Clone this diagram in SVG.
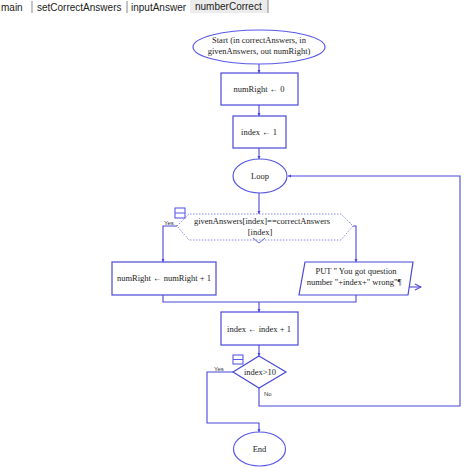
<svg xmlns="http://www.w3.org/2000/svg" width="474" height="468" viewBox="0 0 474 468">
<style>
.tab{font-family:"Liberation Sans",Arial,sans-serif;font-size:10px;fill:#222}
.sep{stroke:#888;stroke-width:1}
.shape{fill:#fff;stroke:#4848d8;stroke-width:1.2}
.ell{fill:#fff;stroke:#5a5ae6;stroke-width:1.2}
.t{font-family:"Liberation Serif","Times New Roman",serif;font-size:8.5px;fill:#222;text-anchor:middle}
.lbl{font-family:"Liberation Sans",Arial,sans-serif;font-size:6px;fill:#333}
.c{fill:none;stroke:#4848d8;stroke-width:1.1}
.icon{fill:#fff;stroke:#5a5ae6;stroke-width:1.1}
</style>
<defs>
<marker id="dot" markerWidth="4" markerHeight="4" refX="3" refY="2" orient="auto" markerUnits="userSpaceOnUse">
<path d="M0,0.5 L3,2 L0,3.5 Z" fill="#4848d8"/>
</marker>
<marker id="open" markerWidth="8" markerHeight="8" refX="7" refY="4" orient="auto" markerUnits="userSpaceOnUse">
<path d="M1,1 L7,4 L1,7" fill="none" stroke="#4848d8" stroke-width="1.1"/>
</marker>
</defs>
<rect width="474" height="468" fill="#fff"/>
<g id="tabs">
<rect x="190" y="0" width="78" height="13" fill="#ececec"/>
<text class="tab" x="1" y="11">main</text>
<line class="sep" x1="32" y1="1" x2="32" y2="13"/>
<text class="tab" x="37" y="11">setCorrectAnswers</text>
<line class="sep" x1="127" y1="1" x2="127" y2="13"/>
<text class="tab" x="131" y="11">inputAnswer</text>
<text class="tab" x="195" y="9.5">numberCorrect</text>
<line class="sep" x1="268" y1="0" x2="268" y2="13"/>
</g>
<g id="connectors">
<line class="c" x1="259" y1="64" x2="259" y2="73" marker-end="url(#dot)"/>
<line class="c" x1="259" y1="105" x2="259" y2="116" marker-end="url(#dot)"/>
<line class="c" x1="259" y1="148" x2="259" y2="159" marker-end="url(#dot)"/>
<line class="c" x1="259" y1="193" x2="259" y2="214" marker-end="url(#dot)"/>
<polyline class="c" points="177,226 163,226 163,262" marker-end="url(#dot)"/>
<polyline class="c" points="353,226 356,226 356,262" marker-end="url(#dot)"/>
<polyline class="c" points="163,295 163,302 356,302 356,295"/>
<line class="c" x1="259" y1="302" x2="259" y2="312" marker-end="url(#dot)"/>
<line class="c" x1="408" y1="287" x2="421" y2="287" marker-end="url(#open)"/>
<line class="c" x1="259" y1="345" x2="259" y2="356" marker-end="url(#dot)"/>
<polyline class="c" points="233,372 207,372 207,423 259,423 259,432" marker-end="url(#dot)"/>
<polyline class="c" points="259,388 259,406 460,406 460,176 288,176" marker-end="url(#dot)"/>
<text class="lbl" x="164" y="225">Yes</text>
<text class="lbl" x="343" y="225">No</text>
<text class="lbl" x="214" y="371">Yes</text>
<text class="lbl" x="264" y="396">No</text>
</g>
<g id="start">
<ellipse class="ell" cx="259" cy="47" rx="66" ry="17"/>
<text class="t" x="259" y="43">Start (in correctAnswers, in</text>
<text class="t" x="259" y="54">givenAnswers, out numRight)</text>
</g>
<g id="numRight0">
<rect class="shape" x="221" y="73" width="77" height="32"/>
<text class="t" x="259" y="92">numRight ← 0</text>
</g>
<g id="index1">
<rect class="shape" x="233" y="116" width="53" height="32"/>
<text class="t" x="259" y="135">index ← 1</text>
</g>
<g id="loop">
<ellipse class="ell" cx="260" cy="176" rx="27" ry="17"/>
<text class="t" x="260" y="179">Loop</text>
</g>
<g id="decision1">
<polygon points="177,226 189,214 341,214 353,226 341,240 189,240" fill="#fff" stroke="#8888e6" stroke-width="1" stroke-dasharray="1.5,1.5"/>
<polyline points="253,238 259,243 265,238" fill="none" stroke="#6a6ae0" stroke-width="1"/>
<rect class="icon" x="175" y="208" width="10" height="10"/>
<line x1="175" y1="213" x2="185" y2="213" stroke="#5a5ae6" stroke-width="1"/>
<text class="t" x="262" y="224">givenAnswers[index]==correctAnswers</text>
<text class="t" x="260" y="235">[index]</text>
</g>
<g id="numRightInc">
<rect class="shape" x="112" y="262" width="104" height="33"/>
<text class="t" x="164" y="281">numRight ← numRight + 1</text>
</g>
<g id="put">
<polygon class="shape" points="305,262 413,262 408,295 299,295"/>
<text class="t" x="356" y="274">PUT " You got question</text>
<text class="t" x="354" y="285">number "+index+" wrong"¶</text>
</g>
<g id="indexInc">
<rect class="shape" x="221" y="312" width="77" height="33"/>
<text class="t" x="259" y="332">index ← index + 1</text>
</g>
<g id="decision2">
<polygon class="shape" points="259,356 286,372 259,388 233,372"/>
<rect class="icon" x="233" y="355" width="10" height="9"/>
<line x1="233" y1="359.5" x2="243" y2="359.5" stroke="#5a5ae6" stroke-width="1"/>
<text class="t" x="260" y="375">index&gt;10</text>
</g>
<g id="end">
<ellipse class="ell" cx="259.5" cy="449" rx="26" ry="17"/>
<text class="t" x="259.5" y="452">End</text>
</g>
</svg>
